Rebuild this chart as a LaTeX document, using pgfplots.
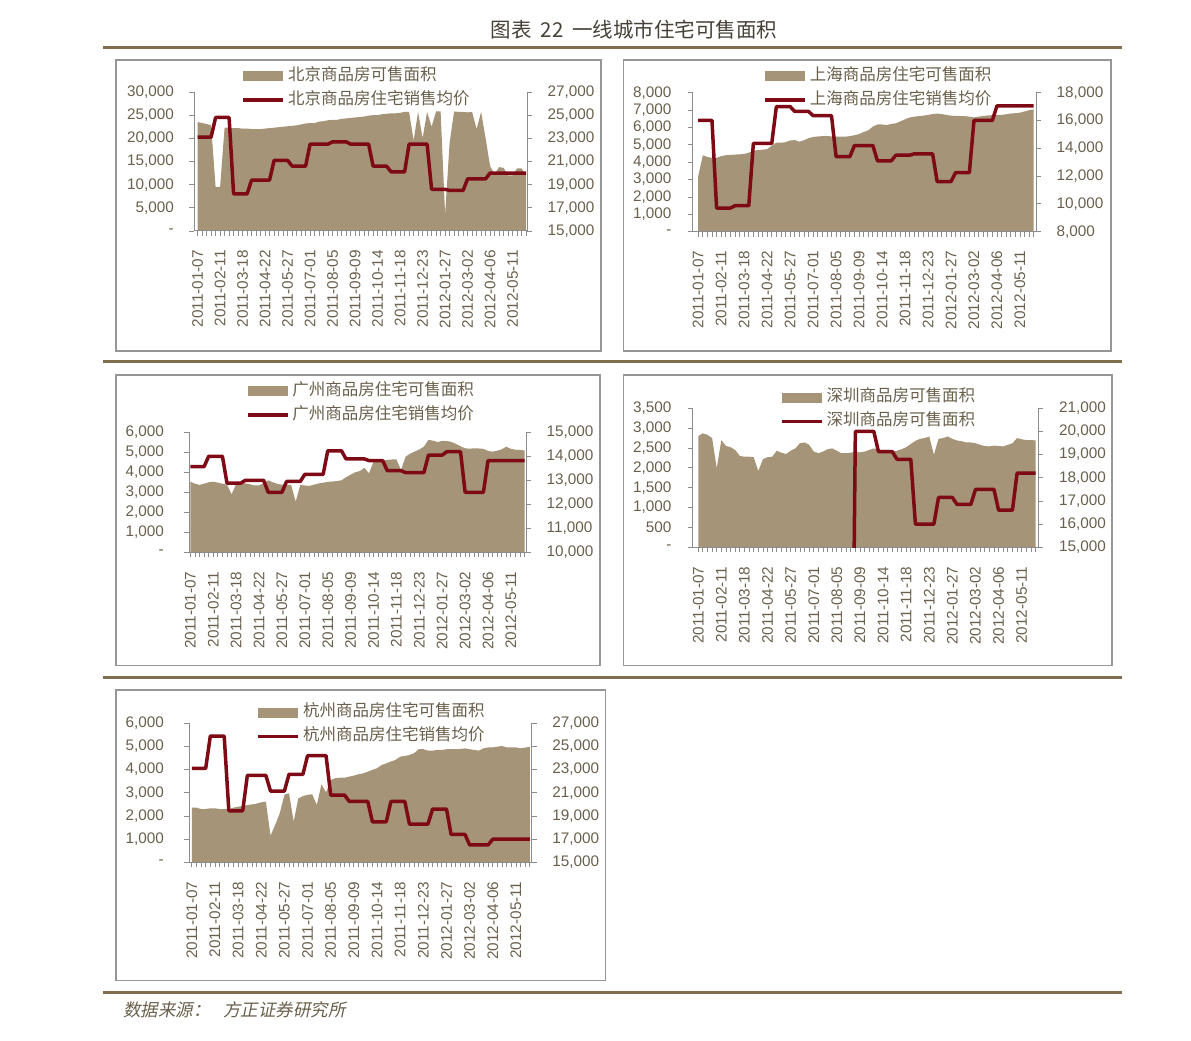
\documentclass[border=0pt]{standalone}
\usepackage{fontspec}
\setmainfont{Liberation Sans}
\newfontfamily\cjk{Noto Sans CJK SC}
\newfontfamily\cjkit[FakeSlant=0.2]{Noto Sans CJK SC}
\usepackage{pgfplots}
\pgfplotsset{compat=1.18}
\definecolor{areacol}{RGB}{165,148,120}
\definecolor{linecol}{RGB}{125,10,20}
\definecolor{labcol}{RGB}{105,95,75}
\definecolor{axcol}{RGB}{140,140,140}
\definecolor{framecol}{RGB}{150,150,150}
\definecolor{rulecol}{RGB}{128,110,80}
\definecolor{titlecol}{RGB}{70,65,55}
\newcommand\tickfont{\fontsize{15.3}{15.3}\selectfont}
\newcommand\legfont{\cjk\fontsize{16.5}{16.5}\selectfont}
\pgfplotsset{
 base/.style={scale only axis, anchor=south west,
   axis line style={draw=axcol, line width=1pt},
   tick style={draw=axcol, line width=0.8pt},
   tick align=outside, major tick length=5pt, minor tick length=5pt,
   scaled y ticks=false, scaled x ticks=false,
   /pgf/number format/assume math mode=true, clip=true},
 leftax/.style={base, axis on top, axis y line*=left, axis x line*=bottom,
   xtick={0,5,...,70}, minor xtick={0,...,73},
   xticklabels={2011-01-07,2011-02-11,2011-03-18,2011-04-22,2011-05-27,2011-07-01,2011-08-05,2011-09-09,2011-10-14,2011-11-18,2011-12-23,2012-01-27,2012-03-02,2012-04-06,2012-05-11},
   xticklabel style={font=\tickfont, text=labcol, rotate=90, anchor=east, inner xsep=14pt, inner ysep=0pt},
   yticklabel style={font=\tickfont, text=labcol, anchor=east, inner xsep=#1, inner ysep=0pt}},
 rightax/.style={base, axis y line*=right, hide x axis,
   yticklabel style={font=\tickfont, text=labcol, anchor=west, inner xsep=15.5pt, inner ysep=0pt},
   legend cell align=left,
   legend style={draw=none, fill=none, inner sep=0pt, outer sep=0pt, anchor=north west,
     row sep=7pt, column sep=3pt, font=\legfont, text=labcol,
     nodes={inner sep=0pt, text height=13pt, text depth=4pt}}},
 areaplot/.style={fill=areacol, draw=none},
 lineplot/.style={linecol, line width=3.5pt, line join=round,
   legend image code/.code={\draw[linecol, line width=3.5pt] (0pt,0pt) -- (40pt,0pt);}},
 arealeg/.style={legend image code/.code={\fill[areacol] (0pt,-4.5pt) rectangle (39pt,4.5pt);}},
 table/vals/.style={x expr=\coordindex+#1, y index=0, header=false, row sep=\\},
 table/vals/.default=0
}
\begin{document}
\begin{tikzpicture}
\path[use as bounding box] (0pt,0pt) rectangle (1191pt,1041pt);
% title and rules
\node[text=titlecol, font=\cjk\fontsize{20.5}{20.5}\selectfont] at (634pt,1011pt) {图表\hspace{9pt}22\hspace{9pt}一线城市住宅可售面积};
\foreach \yy in {993,679,363,48} \draw[rulecol, line width=3pt] (103pt,\yy pt) -- (1122pt,\yy pt);
\node[anchor=west, inner sep=0pt, text=labcol, font=\cjkit\fontsize{17.5}{17.5}\selectfont] at (123pt,31pt) {数据来源：};
\node[anchor=west, inner sep=0pt, text=labcol, font=\cjkit\fontsize{17.5}{17.5}\selectfont] at (223pt,31pt) {方正证券研究所};
% frames
\draw[framecol, line width=1.3pt] (116pt,981pt) rectangle (601pt,690pt);
\draw[framecol, line width=1.3pt] (623.5pt,981pt) rectangle (1111pt,690pt);
\draw[framecol, line width=1.3pt] (116pt,666pt) rectangle (600pt,375.3pt);
\draw[framecol, line width=1.3pt] (623.5pt,666pt) rectangle (1112pt,375.3pt);
\draw[framecol, line width=1.3pt] (116pt,351pt) rectangle (605.5pt,60.3pt);

% ---------------- Beijing ----------------
\begin{axis}[leftax=15pt, at={(194pt,810pt)}, width=333pt, height=139pt,
  xmin=-0.8, xmax=73.2, ymin=0, ymax=30000, ytick={0,5000,...,30000},
  yticklabels={{-\hspace{9pt}},{5,000},{10,000},{15,000},{20,000},{25,000},{30,000}}]
\addplot[areaplot] table[vals]{23500\\23300\\23100\\22800\\9500\\9500\\22300\\22300\\22200\\22200\\22100\\22100\\22000\\22000\\22000\\22100\\22200\\22300\\22400\\22500\\22600\\22700\\22800\\23000\\23200\\23300\\23300\\23600\\23700\\23900\\24000\\24000\\24200\\24300\\24400\\24500\\24600\\24700\\24900\\25000\\25000\\25200\\25300\\25400\\25400\\25500\\25700\\25700\\19500\\25700\\20000\\25700\\22500\\25800\\25800\\3600\\19000\\25800\\25700\\25700\\25600\\25700\\22000\\25700\\20000\\14000\\12300\\13800\\13600\\12000\\12000\\13500\\13500\\12000\\} \closedcycle;
\end{axis}
\begin{axis}[rightax, at={(194pt,810pt)}, width=333pt, height=139pt,
  xmin=-0.8, xmax=73.2, ymin=15000, ymax=27000, ytick={15000,17000,...,27000},
  yticklabels={{15,000},{17,000},{19,000},{21,000},{23,000},{25,000},{27,000}},
  legend style={at={(axis description cs:0.1432,1.177)}}]
\addlegendimage{arealeg}
\addlegendentry{北京商品房可售面积}
\addplot[lineplot] table[vals]{23100\\23100\\23100\\23100\\24800\\24800\\24800\\24800\\18200\\18200\\18200\\18200\\19400\\19400\\19400\\19400\\19400\\21100\\21100\\21100\\21100\\20600\\20600\\20600\\20600\\22500\\22500\\22500\\22500\\22500\\22700\\22700\\22700\\22700\\22500\\22500\\22500\\22500\\22500\\20600\\20600\\20600\\20600\\20100\\20100\\20100\\20100\\22500\\22500\\22500\\22500\\22500\\18600\\18600\\18600\\18600\\18500\\18500\\18500\\18500\\19500\\19500\\19500\\19500\\19500\\20000\\20000\\20000\\20000\\20000\\20000\\20000\\20000\\20000\\};
\addlegendentry{北京商品房住宅销售均价}
\end{axis}

% ---------------- Shanghai ----------------
\begin{axis}[leftax=16pt, at={(692.7pt,809.3pt)}, width=343.3pt, height=139pt,
  xmin=-1.2, xmax=73.5, ymin=0, ymax=8000, ytick={0,1000,...,8000},
  yticklabels={{-\hspace{10pt}},{1,000},{2,000},{3,000},{4,000},{5,000},{6,000},{7,000},{8,000}}]
\addplot[areaplot] table[vals]{3200\\4400\\4300\\4250\\4250\\4350\\4400\\4420\\4440\\4450\\4470\\4550\\4650\\4700\\4720\\4750\\4950\\5130\\5120\\5150\\5250\\5270\\5180\\5260\\5380\\5450\\5480\\5500\\5500\\5490\\5470\\5470\\5470\\5500\\5550\\5620\\5740\\5830\\6050\\6170\\6170\\6140\\6200\\6240\\6350\\6470\\6570\\6620\\6650\\6680\\6720\\6770\\6800\\6770\\6720\\6680\\6660\\6660\\6650\\6620\\6580\\6620\\6660\\6690\\6710\\6720\\6720\\6760\\6800\\6820\\6850\\6920\\6990\\7040\\} \closedcycle;
\end{axis}
\begin{axis}[rightax, at={(692.7pt,809.3pt)}, width=343.3pt, height=139pt,
  xmin=-1.2, xmax=73.5, ymin=8000, ymax=18000, ytick={8000,10000,...,18000},
  yticklabels={{8,000},{10,000},{12,000},{14,000},{16,000},{18,000}},
  legend style={at={(axis description cs:0.2057,1.182)}}]
\addlegendimage{arealeg}
\addlegendentry{上海商品房住宅可售面积}
\addplot[lineplot] table[vals]{16000\\16000\\16000\\16000\\9700\\9700\\9700\\9700\\9870\\9870\\9870\\9870\\14350\\14350\\14350\\14350\\14350\\17000\\17000\\17000\\17000\\16650\\16650\\16650\\16650\\16350\\16350\\16350\\16350\\16350\\13400\\13400\\13400\\13400\\14200\\14200\\14200\\14200\\14200\\13100\\13100\\13100\\13100\\13500\\13500\\13500\\13500\\13600\\13600\\13600\\13600\\13600\\11600\\11600\\11600\\11600\\12250\\12250\\12250\\12250\\16000\\16000\\16000\\16000\\16000\\17050\\17050\\17050\\17050\\17050\\17050\\17050\\17050\\17050\\};
\addlegendentry{上海商品房住宅销售均价}
\end{axis}

% ---------------- Guangzhou ----------------
\begin{axis}[leftax=20pt, at={(189pt,488.7pt)}, width=337pt, height=120pt,
  xmin=-0.3, xmax=73.3, ymin=0, ymax=6000, ytick={0,1000,...,6000},
  yticklabels={{-\hspace{10pt}},{1,000},{2,000},{3,000},{4,000},{5,000},{6,000}}]
\addplot[areaplot] table[vals]{3530\\3430\\3370\\3430\\3500\\3530\\3480\\3430\\3380\\2900\\3420\\3440\\3450\\3400\\3340\\3350\\3450\\3600\\3500\\3420\\3380\\3370\\3370\\2530\\3370\\3340\\3320\\3380\\3440\\3480\\3520\\3540\\3560\\3600\\3750\\3880\\4000\\4060\\4230\\3950\\4530\\4570\\4590\\4620\\4640\\4650\\4120\\4780\\4930\\5040\\5140\\5280\\5620\\5580\\5510\\5570\\5560\\5520\\5420\\5300\\5200\\5180\\5200\\5190\\5170\\5070\\5030\\5080\\5150\\5280\\5170\\5130\\5120\\5090\\} \closedcycle;
\end{axis}
\begin{axis}[rightax, at={(189pt,488.7pt)}, width=337pt, height=120pt,
  xmin=-0.3, xmax=73.3, ymin=10000, ymax=15000, ytick={10000,11000,...,15000},
  yticklabels={{10,000},{11,000},{12,000},{13,000},{14,000},{15,000}},
  legend style={at={(axis description cs:0.169,1.415)}}]
\addlegendimage{arealeg}
\addlegendentry{广州商品房住宅可售面积}
\addplot[lineplot] table[vals]{13570\\13570\\13570\\13570\\14000\\14000\\14000\\14000\\12880\\12880\\12880\\12880\\13000\\13000\\13000\\13000\\13000\\12500\\12500\\12500\\12500\\12950\\12950\\12950\\12950\\13250\\13250\\13250\\13250\\13250\\14230\\14230\\14230\\14230\\13890\\13890\\13890\\13890\\13890\\13820\\13820\\13820\\13820\\13400\\13400\\13400\\13400\\13320\\13320\\13320\\13320\\13320\\14050\\14050\\14050\\14050\\14190\\14190\\14190\\14190\\12500\\12500\\12500\\12500\\12500\\13820\\13820\\13820\\13820\\13820\\13820\\13820\\13820\\13820\\};
\addlegendentry{广州商品房住宅销售均价}
\end{axis}

% ---------------- Shenzhen ----------------
\begin{axis}[leftax=16pt, at={(692.7pt,493.7pt)}, width=345.6pt, height=139pt,
  xmin=-1.2, xmax=73.6, ymin=0, ymax=3500, ytick={0,500,...,3500},
  yticklabels={{-\hspace{10pt}},{500},{1,000},{1,500},{2,000},{2,500},{3,000},{3,500}}]
\addplot[areaplot] table[vals]{2800\\2870\\2830\\2750\\1990\\2700\\2550\\2520\\2450\\2300\\2280\\2280\\2270\\1920\\2220\\2270\\2280\\2430\\2380\\2350\\2430\\2490\\2620\\2640\\2580\\2410\\2370\\2410\\2470\\2490\\2430\\2370\\2370\\2380\\2410\\2390\\2410\\2450\\2490\\2450\\2450\\2450\\2410\\2430\\2470\\2520\\2600\\2680\\2730\\2750\\2790\\2330\\2730\\2750\\2790\\2730\\2690\\2670\\2640\\2640\\2620\\2580\\2550\\2540\\2560\\2550\\2540\\2580\\2620\\2750\\2720\\2700\\2700\\2690\\} \closedcycle;
\end{axis}
\begin{axis}[rightax, at={(692.7pt,493.7pt)}, width=345.6pt, height=139pt,
  xmin=-1.2, xmax=73.6, ymin=15000, ymax=21000, ytick={15000,16000,...,21000},
  yticklabels={{15,000},{16,000},{17,000},{18,000},{19,000},{20,000},{21,000}},
  legend style={at={(axis description cs:0.2526,1.139)}}]
\addlegendimage{arealeg}
\addlegendentry{深圳商品房可售面积}
\addplot[lineplot] table[vals=33]{0\\20000\\20000\\20000\\20000\\20000\\19130\\19130\\19130\\19130\\18800\\18800\\18800\\18800\\16000\\16000\\16000\\16000\\16000\\17150\\17150\\17150\\17150\\16850\\16850\\16850\\16850\\17500\\17500\\17500\\17500\\17500\\16600\\16600\\16600\\16600\\18200\\18200\\18200\\18200\\18200\\};
\addlegendentry{深圳商品房可售面积}
\end{axis}

% ---------------- Hangzhou ----------------
\begin{axis}[leftax=20pt, at={(189pt,178.7pt)}, width=342.7pt, height=139pt,
  xmin=-0.6, xmax=73.4, ymin=0, ymax=6000, ytick={0,1000,...,6000},
  yticklabels={{-\hspace{10pt}},{1,000},{2,000},{3,000},{4,000},{5,000},{6,000}}]
\addplot[areaplot] table[vals]{2360\\2360\\2300\\2300\\2330\\2330\\2300\\2300\\2300\\2360\\2400\\2430\\2470\\2500\\2530\\2590\\2620\\1150\\1610\\2120\\2910\\2980\\1760\\2760\\2860\\2910\\2940\\2470\\3370\\3020\\3550\\3630\\3650\\3650\\3700\\3740\\3800\\3840\\3910\\3990\\4060\\4200\\4270\\4350\\4420\\4560\\4590\\4630\\4710\\4880\\4880\\4820\\4820\\4850\\4850\\4880\\4880\\4880\\4890\\4920\\4880\\4850\\4820\\4920\\4960\\4960\\4990\\5020\\4960\\4960\\4960\\4920\\4950\\4990\\} \closedcycle;
\end{axis}
\begin{axis}[rightax, at={(189pt,178.7pt)}, width=342.7pt, height=139pt,
  xmin=-0.6, xmax=73.4, ymin=15000, ymax=27000, ytick={15000,17000,...,27000},
  yticklabels={{15,000},{17,000},{19,000},{21,000},{23,000},{25,000},{27,000}},
  legend style={at={(axis description cs:0.1975,1.139)}}]
\addlegendimage{arealeg}
\addlegendentry{杭州商品房住宅可售面积}
\addplot[lineplot] table[vals]{23100\\23100\\23100\\23100\\25900\\25900\\25900\\25900\\19450\\19450\\19450\\19450\\22500\\22500\\22500\\22500\\22500\\21150\\21150\\21150\\21150\\22600\\22600\\22600\\22600\\24200\\24200\\24200\\24200\\24200\\20800\\20800\\20800\\20800\\20250\\20250\\20250\\20250\\20250\\18500\\18500\\18500\\18500\\20250\\20250\\20250\\20250\\18300\\18300\\18300\\18300\\18300\\19600\\19600\\19600\\19600\\17400\\17400\\17400\\17400\\16500\\16500\\16500\\16500\\16500\\17000\\17000\\17000\\17000\\17000\\17000\\17000\\17000\\17000\\};
\addlegendentry{杭州商品房住宅销售均价}
\end{axis}
\end{tikzpicture}
\end{document}
